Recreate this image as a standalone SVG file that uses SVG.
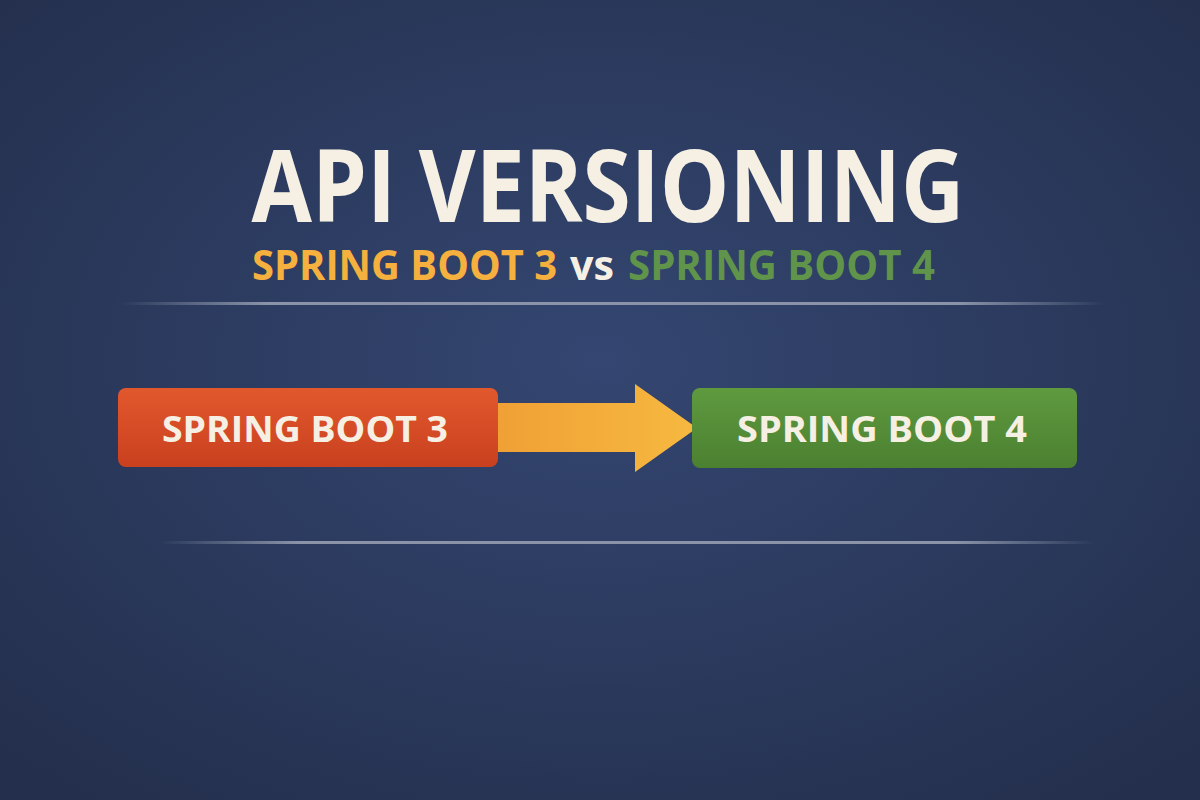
<svg xmlns="http://www.w3.org/2000/svg" width="1200" height="800" viewBox="0 0 1200 800">
<defs>
<radialGradient id="bg" cx="0.5" cy="0.45" r="0.7">
<stop offset="0" stop-color="#344671"/><stop offset="1" stop-color="#232f4c"/>
</radialGradient>
<linearGradient id="red" x1="0" y1="0" x2="0" y2="1"><stop offset="0" stop-color="#e2582d"/><stop offset="1" stop-color="#c9401f"/></linearGradient>
<linearGradient id="green" x1="0" y1="0" x2="0" y2="1"><stop offset="0" stop-color="#5f9a3f"/><stop offset="1" stop-color="#4b8030"/></linearGradient>
<linearGradient id="arr" x1="0" y1="0" x2="1" y2="0"><stop offset="0" stop-color="#f0a035"/><stop offset="1" stop-color="#f6b940"/></linearGradient>
<linearGradient id="ln" x1="0" y1="0" x2="1" y2="0"><stop offset="0" stop-color="#8a93a8" stop-opacity="0"/><stop offset="0.15" stop-color="#8a93a8"/><stop offset="0.85" stop-color="#8a93a8"/><stop offset="1" stop-color="#8a93a8" stop-opacity="0"/></linearGradient>
</defs>
<style>
text{font-family:"Open Sans","Liberation Sans",sans-serif;font-weight:bold}
.box{font-size:36px;fill:#f6f0e4}
.sub{font-size:42px}
</style>
<rect width="1200" height="800" fill="url(#bg)"/>
<text x="608" y="222" text-anchor="middle" font-size="100" fill="#f6f0e4" textLength="713" lengthAdjust="spacingAndGlyphs">API VERSIONING</text>
<text class="sub" x="252" y="280" fill="#f5b03e" textLength="305" lengthAdjust="spacingAndGlyphs">SPRING BOOT 3</text>
<text class="sub" x="570" y="280" fill="#f6f0e4" textLength="44" lengthAdjust="spacingAndGlyphs">vs</text>
<text class="sub" x="628" y="280" fill="#5f944a" textLength="307" lengthAdjust="spacingAndGlyphs">SPRING BOOT 4</text>
<rect x="120" y="302" width="985" height="3" fill="url(#ln)"/>
<rect x="160" y="541" width="935" height="3" fill="url(#ln)"/>
<g id="connectors">
<polygon points="495,403 635,403 635,384 697,428 635,472 635,452 495,452" fill="url(#arr)"/>
</g>
<g id="sb3">
<rect x="118" y="388" width="380" height="79" rx="8" fill="url(#red)"/>
<text class="box" x="305" y="442" text-anchor="middle" textLength="286" lengthAdjust="spacingAndGlyphs">SPRING BOOT 3</text>
</g>
<g id="sb4">
<rect x="692" y="388" width="385" height="80" rx="8" fill="url(#green)"/>
<text class="box" x="882" y="442" text-anchor="middle" textLength="290" lengthAdjust="spacingAndGlyphs">SPRING BOOT 4</text>
</g>
</svg>
